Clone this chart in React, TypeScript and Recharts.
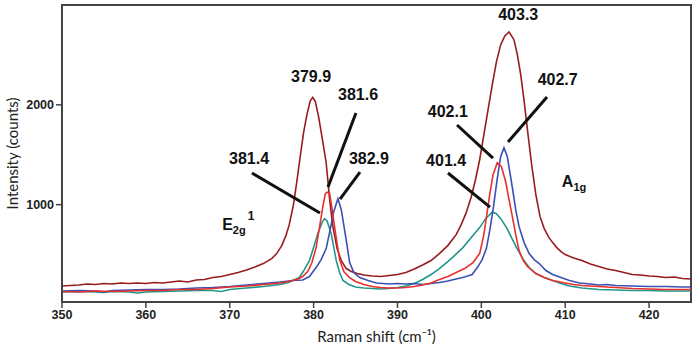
import React from "react"
import {
    LineChart,
    Line,
    XAxis,
    YAxis,
    ReferenceLine,
    ReferenceDot,
    ReferenceArea,
} from "recharts"

// spectra as [raman shift, counts] pairs
const maroonSpectrum: [number, number][] = [
    [350, 185], [351, 190], [352, 195], [353, 205], [354, 200], [355, 210], [356, 205], [357, 215], [358, 210],
    [359, 215], [360, 210], [361, 220], [362, 215], [363, 225], [364, 235], [365, 225], [366, 245], [367, 250],
    [368, 270], [369, 280], [370, 300], [371, 320], [372, 345], [373, 375], [374, 410], [375, 460], [375.6, 510],
    [376.2, 590], [376.7, 690], [377.1, 800], [377.6, 1000], [378, 1230], [378.4, 1480], [378.8, 1720],
    [379.2, 1900], [379.6, 2040], [379.9, 2075], [380.2, 2035], [380.6, 1880], [381, 1680], [381.5, 1420],
    [381.9, 1060], [382.3, 780], [382.8, 560], [383.3, 440], [383.9, 360], [384.5, 330], [385.2, 310],
    [386, 295], [387, 285], [388, 280], [389, 290], [390, 300], [391, 320], [392, 355], [393, 395], [394, 440],
    [395, 510], [396, 590], [397, 700], [397.6, 800], [398.2, 920], [398.8, 1080], [399.3, 1250], [399.8, 1450],
    [400.3, 1700], [400.8, 1950], [401.3, 2200], [401.8, 2430], [402.3, 2600], [402.8, 2690], [403.3, 2730],
    [403.6, 2690], [403.9, 2650], [404.3, 2500], [404.7, 2300], [405.1, 2040], [405.5, 1750], [406, 1400],
    [406.5, 1100], [407, 880], [407.5, 760], [408, 680], [408.5, 620], [409, 570], [409.5, 530], [410, 500],
    [411, 465], [412, 440], [413, 405], [414, 380], [415, 355], [416, 340], [417, 320], [418, 300], [419, 295],
    [420, 285], [421, 280], [422, 270], [423, 275], [424, 260], [425, 255],
]

const tealSpectrum: [number, number][] = [
    [350, 125], [352, 130], [354, 125], [355, 120], [356, 130], [358, 125], [359, 115], [360, 125], [362, 130],
    [364, 135], [366, 140], [368, 140], [369, 130], [370, 150], [372, 165], [374, 180], [376, 200], [377, 220],
    [378.3, 270], [378.9, 350], [379.5, 440], [380, 570], [380.5, 710], [381, 820], [381.3, 860], [381.6, 840],
    [382.1, 710], [382.7, 440], [383.1, 320], [383.5, 240], [384.2, 200], [385, 175], [386, 165], [387, 160],
    [388, 155], [389, 160], [390, 170], [391, 185], [392, 210], [393, 250], [394, 300], [395, 360], [396, 430],
    [396.8, 490], [397.8, 570], [398.8, 670], [399.8, 770], [400.5, 860], [401.3, 925], [401.8, 910],
    [402.4, 850], [403, 770], [403.6, 670], [404.2, 570], [405, 450], [405.7, 370], [406.5, 310], [407.5, 270],
    [408.5, 240], [409.5, 210], [410.5, 185], [412, 165], [414, 150], [416, 145], [418, 140], [420, 140],
    [422, 135], [425, 135],
]

const blueSpectrum: [number, number][] = [
    [350, 135], [352, 140], [354, 135], [355, 125], [356, 140], [358, 145], [360, 150], [362, 150], [364, 155],
    [366, 165], [368, 170], [370, 180], [372, 195], [374, 210], [376, 225], [377.5, 240], [378.7, 245],
    [379.5, 280], [380.3, 370], [380.9, 450], [381.5, 560], [382, 760], [382.4, 930], [382.9, 1060],
    [383.3, 950], [383.9, 640], [384.3, 420], [384.8, 320], [385.5, 270], [386.5, 240], [387.5, 215],
    [389, 205], [390, 210], [391, 205], [392, 210], [393, 200], [394, 210], [395, 220], [396, 235], [397, 255],
    [398, 275], [398.9, 300], [399.6, 380], [400.1, 450], [400.6, 560], [401, 740], [401.4, 950], [401.9, 1260],
    [402.3, 1480], [402.7, 1570], [403.1, 1480], [403.7, 1170], [404.1, 950], [404.5, 780], [405.1, 620],
    [405.7, 510], [406.3, 450], [406.9, 410], [407.7, 340], [408.5, 300], [409.5, 270], [410.5, 240],
    [411.7, 215], [413, 205], [414, 195], [415, 200], [416, 190], [418, 185], [420, 180], [422, 180],
    [424, 175], [425, 175],
]

const redSpectrum: [number, number][] = [
    [350, 130], [352, 125], [354, 135], [356, 130], [358, 135], [360, 140], [362, 140], [364, 150], [366, 150],
    [368, 160], [370, 175], [372, 185], [374, 200], [376, 215], [377, 230], [378, 250], [378.7, 280],
    [379.3, 330], [379.8, 420], [380.3, 570], [380.7, 770], [381.1, 980], [381.4, 1110], [381.6, 1125],
    [381.9, 1115], [382.2, 960], [382.6, 720], [383.1, 450], [383.6, 330], [384.3, 270], [385, 230], [386, 200],
    [387, 180], [388, 170], [389, 165], [390, 165], [391, 170], [392, 180], [393, 195], [394, 215], [395, 250],
    [396, 280], [397, 320], [398, 360], [399, 420], [399.8, 510], [400.3, 700], [400.6, 870], [401, 1100],
    [401.4, 1300], [401.9, 1420], [402.4, 1380], [402.9, 1230], [403.3, 1050], [403.7, 880], [404.1, 700],
    [404.5, 540], [405, 440], [405.5, 380], [406.5, 310], [407.5, 270], [408.5, 240], [410, 215], [411, 200],
    [412, 190], [414, 180], [416, 170], [418, 160], [420, 155], [422, 150], [425, 150],
]

const xTicks = [350, 360, 370, 380, 390, 400, 410, 420]
const yTicks = [1000, 2000]

// peak labels, anchored in data units (shift, counts)
const peakLabels = [
    { text: "379.9", shift: 379.7, counts: 2280 },
    { text: "381.6", shift: 385.3, counts: 2108 },
    { text: "381.4", shift: 372.3, counts: 1467 },
    { text: "382.9", shift: 386.6, counts: 1467 },
    { text: "403.3", shift: 404.4, counts: 2900 },
    { text: "402.7", shift: 409.1, counts: 2249 },
    { text: "402.1", shift: 396.0, counts: 1938 },
    { text: "401.4", shift: 395.8, counts: 1447 },
]

// leader lines from label to peak
const leaders = [
    { x1: 372.65, y1: 1317, x2: 380.76, y2: 916 },
    { x1: 385.05, y1: 1918, x2: 381.72, y2: 1176 },
    { x1: 385.53, y1: 1327, x2: 383.15, y2: 1056 },
    { x1: 397.1, y1: 1798, x2: 401.39, y2: 1467 },
    { x1: 396.02, y1: 1317, x2: 401.03, y2: 976 },
    { x1: 407.83, y1: 2078, x2: 403.18, y2: 1627 },
]

const modeLabels = [
    { base: "E", sub: "2g", sup: "1", shift: 369.1, counts: 745 },
    { base: "A", sub: "1g", sup: "", shift: 409.6, counts: 1176 },
]

const series = [
    { name: "s1", data: maroonSpectrum, color: "#981b1e" },
    { name: "s2", data: tealSpectrum, color: "#22968a" },
    { name: "s3", data: blueSpectrum, color: "#3c4fb3" },
    { name: "s4", data: redSpectrum, color: "#e8302e" },
]

const toRows = (pairs: [number, number][]) => pairs.map(([shift, counts]) => ({ shift, counts }))

const tickStyle = { fontFamily: "'Liberation Sans', Arial, sans-serif", fontWeight: 700, fontSize: 12.5, fill: "#222" }
const labelFont = "'Liberation Sans', Arial, sans-serif"

export default function App() {
    return (
        <div style={{ position: "absolute", left: 0, top: 0, width: 700, height: 356, background: "#fff" }}>
            <LineChart width={700} height={356} margin={{ top: 5, right: 9, left: 5, bottom: 0 }}>
                <XAxis
                    dataKey="shift"
                    type="number"
                    domain={[350, 425]}
                    ticks={xTicks}
                    allowDataOverflow
                    height={54}
                    stroke="#444"
                    strokeWidth={1.5}
                    tickSize={6}
                    tick={tickStyle}
                    label={{
                        value: "Raman shift (cm⁻¹)",
                        position: "insideBottom",
                        offset: 14,
                        style: { fontFamily: "Lato, sans-serif", fontSize: 15, fill: "#222" },
                    }}
                />
                <YAxis
                    dataKey="counts"
                    type="number"
                    domain={[25, 3000]}
                    ticks={yTicks}
                    allowDataOverflow
                    width={57}
                    stroke="#444"
                    strokeWidth={1.5}
                    tickSize={6}
                    tick={tickStyle}
                    label={{
                        value: "Intensity (counts)",
                        angle: -90,
                        position: "insideLeft",
                        offset: 8,
                        style: { textAnchor: "middle", fontFamily: "Lato, sans-serif", fontSize: 15, fill: "#222" },
                    }}
                />

                {/* frame around plot */}
                <ReferenceArea x1={350} x2={425} y1={25} y2={3000} fill="none" stroke="#444" strokeWidth={2} />

                {series.map((s) => (
                    <Line
                        key={s.name}
                        data={toRows(s.data)}
                        dataKey="counts"
                        type="linear"
                        stroke={s.color}
                        strokeWidth={1.6}
                        dot={false}
                        isAnimationActive={false}
                    />
                ))}

                {leaders.map((l, i) => (
                    <ReferenceLine
                        key={"ld" + i}
                        segment={[{ x: l.x1, y: l.y1 }, { x: l.x2, y: l.y2 }]}
                        stroke="#111"
                        strokeWidth={3}
                    />
                ))}

                {peakLabels.map((p) => (
                    <ReferenceDot
                        key={p.text}
                        x={p.shift}
                        y={p.counts}
                        r={0}
                        shape={(props: any) => (
                            <text
                                x={props.cx}
                                y={props.cy}
                                textAnchor="middle"
                                dominantBaseline="central"
                                fontFamily={labelFont}
                                fontWeight={700}
                                fontSize={16}
                                fill="#111"
                            >
                                {p.text}
                            </text>
                        )}
                    />
                ))}

                {modeLabels.map((m) => (
                    <ReferenceDot
                        key={m.base}
                        x={m.shift}
                        y={m.counts}
                        r={0}
                        shape={(props: any) => (
                            <text x={props.cx} y={props.cy} fontFamily={labelFont} fontWeight={700} fontSize={16} fill="#111">
                                {m.base}
                                <tspan fontSize={11} dy={4}>{m.sub}</tspan>
                                {m.sup && (
                                    <tspan fontSize={12} dx={2} dy={-14}>{m.sup}</tspan>
                                )}
                            </text>
                        )}
                    />
                ))}
            </LineChart>
        </div>
    )
}
